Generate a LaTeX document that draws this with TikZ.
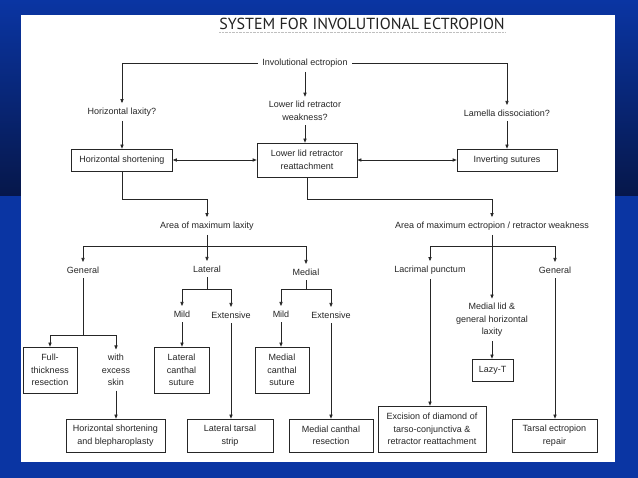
\documentclass[tikz,border=0pt]{standalone}
\usepackage{fontspec}
\setmainfont{Liberation Sans}
\newfontfamily\titlefont{PT Sans}
\usetikzlibrary{arrows.meta,positioning,calc}
\definecolor{slideBlue}{HTML}{0A35A3}
\definecolor{slideNavy}{HTML}{06174A}
\definecolor{ink}{HTML}{262626}
\definecolor{titleInk}{HTML}{222222}

\begin{document}
\begin{tikzpicture}[
    x=1pt, y=-1pt,
    every node/.style={font=\fontsize{9}{12.5}\selectfont, text=ink},
    label/.style={align=center, inner sep=4.5pt},
    box/.style={draw=ink, line width=0.7pt, fill=white, align=center, inner sep=2pt},
    line/.style={draw=ink, line width=0.7pt, -{Triangle[length=4pt, width=3.2pt]}},
    plain/.style={draw=ink, line width=0.7pt},
    dline/.style={draw=ink, line width=0.7pt, {Triangle[length=4pt, width=3.2pt]}-{Triangle[length=4pt, width=3.2pt]}}
  ]
    % Slide background
    \useasboundingbox (0,0) rectangle (638,478);
    \fill[slideBlue] (0,0) rectangle (638,478);
    \shade[top color=slideBlue, bottom color=slideNavy] (0,0) rectangle (638,196);
    \fill[white] (21,15) rectangle (615,462);

    % Title
    \node[font=\titlefont\fontsize{16}{18}\selectfont, text=titleInk, inner sep=0pt] (title) at (362,24) {SYSTEM FOR INVOLUTIONAL ECTROPION};
    \draw[gray!50, line width=1pt, dash pattern=on 0.8pt off 0.6pt] ([yshift=-3pt]title.south west) -- ([yshift=-3pt]title.south east);

    % Nodes Row 1
    \node[label] (invo) at (305,63) {Involutional ectropion};
    \node[label] (hlax) at (122,112) {Horizontal laxity?};
    \node[label] (llw) at (305,111) {Lower lid retractor\\weakness?};
    \node[label] (ldis) at (507,113) {Lamella dissociation?};
    \node[box, minimum width=101, minimum height=22] (hshort) at (122,160) {Horizontal shortening};
    \node[box, minimum width=100, minimum height=34] (llrr) at (307,160) {Lower lid retractor\\reattachment};
    \node[box, minimum width=100, minimum height=22] (invs) at (507,160) {Inverting sutures};

    % Nodes Row 2
    \node[label] (aml) at (207,226) {Area of maximum laxity};
    \node[label] (ame) at (492,226) {Area of maximum ectropion / retractor weakness};
    \node[label] (gen1) at (83,270) {General};
    \node[label] (lat) at (207,269) {Lateral};
    \node[label] (med) at (306,272) {Medial};
    \node[label] (lac) at (430,270) {Lacrimal punctum};
    \node[label] (gen2) at (555,270) {General};
    \node[label] (lmild) at (182,314) {Mild};
    \node[label] (lext) at (231,315) {Extensive};
    \node[label] (mmild) at (281,314) {Mild};
    \node[label] (mext) at (331,315) {Extensive};
    \node[label] (medlid) at (492,320) {Medial lid \&\\general horizontal\\laxity};

    % Nodes Row 3
    \node[box, minimum width=54, minimum height=46] (full) at (50,370) {Full-\\thickness\\resection};
    \node[label] (excess) at (116,370) {with\\excess\\skin};
    \node[box, minimum width=55, minimum height=46] (lcs) at (181.5,370) {Lateral\\canthal\\suture};
    \node[box, minimum width=54, minimum height=46] (mcs) at (282,370) {Medial\\canthal\\suture};
    \node[box, minimum width=41, minimum height=22] (lazy) at (492.5,370) {Lazy-T};
    \node[box, minimum width=99, minimum height=33] (hsb) at (115.5,435.5) {Horizontal shortening\\and blepharoplasty};
    \node[box, minimum width=86, minimum height=33] (lts) at (230,435.5) {Lateral tarsal\\strip};
    \node[box, minimum width=84, minimum height=33] (mcr) at (331,435.5) {Medial canthal\\resection};
    \node[box, minimum width=108, minimum height=46] (exc) at (432,429) {Excision of diamond of\\tarso-conjunctiva \&\\retractor reattachment};
    \node[box, minimum width=85, minimum height=33] (tar) at (554.5,435.5) {Tarsal ectropion\\repair};

    % Branch points
    \coordinate (busA) at (207,246);
    \coordinate (busE) at (492,246);
    \coordinate (busL) at (207,289);
    \coordinate (busM) at (306,289);
    \coordinate (busG) at (83,335);

    % Edges Row 1
    \draw[line] (invo.west) -| (hlax.north);
    \draw[line] (invo.east) -| (ldis.north);
    \draw[line] (invo) -- (llw);
    \draw[line] (hlax) -- (hshort);
    \draw[line] (llw) -- (llrr.north -| llw.south);
    \draw[line] (ldis) -- (invs);
    \draw[dline] (hshort) -- (llrr);
    \draw[dline] (llrr) -- (invs);

    % Edges Row 1 to Row 2
    \draw[line] (hshort.south) -- ++(0,28) -| (aml.north);
    \draw[line] (llrr.south) -- ++(0,22) -| (ame.north);

    % Edges Row 2
    \draw[plain] (aml) -- (busA);
    \draw[line] (busA) -| (gen1.north);
    \draw[line] (busA) -- (lat);
    \draw[line] (busA) -| (med.north);
    \draw[plain] (lat) -- (busL);
    \draw[line] (busL) -| (lmild.north);
    \draw[line] (busL) -| (lext.north);
    \draw[plain] (med) -- (busM);
    \draw[line] (busM) -| (mmild.north);
    \draw[line] (busM) -| (mext.north);
    \draw[line] (ame) -- (medlid);
    \draw[line] (busE) -| (lac.north);
    \draw[line] (busE) -| (gen2.north);

    % Edges Row 3
    \draw[plain] (gen1) -- (busG);
    \draw[line] (busG) -| (full.north);
    \draw[line] (busG) -| (excess.north);
    \draw[line] (excess.south) -- (excess.south |- hsb.north);
    \draw[line] (lmild) -- (lmild.south |- lcs.north);
    \draw[line] (lext.south) -- (lext.south |- lts.north);
    \draw[line] (mmild) -- (mmild.south |- mcs.north);
    \draw[line] (mext.south) -- (mext.south |- mcr.north);
    \draw[line] (medlid) -- (medlid.south |- lazy.north);
    \draw[line] (lac.south) -- (lac.south |- exc.north);
    \draw[line] (gen2.south) -- (gen2.south |- tar.north);
  \end{tikzpicture}
\end{document}
